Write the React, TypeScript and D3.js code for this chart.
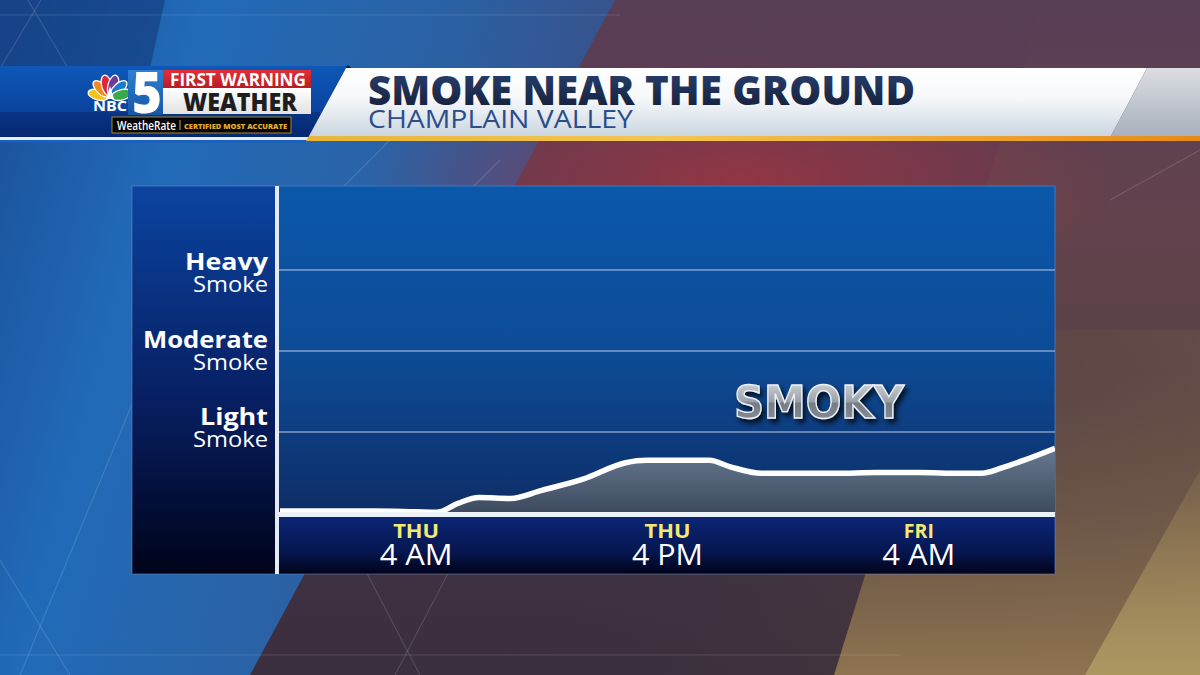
import * as d3 from 'd3'

// hours after Thu 4 AM, smoke level (0 = none, 1 = light, 2 = moderate, 3 = heavy)
const hours = [-6.5, -4, -2, 0, 1, 2, 3, 4.5, 6, 8, 10, 11, 12, 14, 15, 16.5, 18, 20, 22, 24, 26, 27, 28, 29, 30.5]
const smoke = [0.025, 0.025, 0.025, 0.015, 0.01, 0.12, 0.19, 0.18, 0.28, 0.42, 0.62, 0.65, 0.65, 0.65, 0.57, 0.49, 0.49, 0.49, 0.5, 0.5, 0.49, 0.49, 0.56, 0.65, 0.8]

const levelNames = ['Light', 'Moderate', 'Heavy']
const levelValues = [1, 2, 3]
const levelNameWidths = [68, 125, 83]
const tickHours = [0, 12, 24]
const tickDays = ['THU', 'THU', 'FRI']
const tickTimes = ['4 AM', '4 PM', '4 AM']

const TITLE = 'SMOKE NEAR THE GROUND'
const SUBTITLE = 'CHAMPLAIN VALLEY'
const FONT = "'Open Sans', 'DejaVu Sans', sans-serif"

const PLOT = { left: 279, right: 1055, top: 186, base: 513, bottom: 574 }

// NBC peacock feathers, left to right
const FEATHERS = ['#f6c21c', '#f08a1c', '#e2263a', '#6e3c96', '#1a7cc8', '#3aa84a']

export default function App() {
  const x = d3.scaleLinear([-6.5, 30.5], [PLOT.left + 1, PLOT.right])
  const y = d3.scaleLinear([0, 3], [PLOT.base, 270])
  // the level captions sit a little tighter than the gridlines
  const labelY = d3.scaleLinear([1, 3], [425, 270])

  const area = d3.area<number>()
    .x((_, i) => x(hours[i]))
    .y0(y(0))
    .y1(d => y(d))
    .curve(d3.curveMonotoneX)
  const line = d3.line<number>()
    .x((_, i) => x(hours[i]))
    .y(d => y(d))
    .curve(d3.curveMonotoneX)

  const featherAngles = d3.range(FEATHERS.length).map(i => 166 - i * 30.4)

  return (
    <div style={{ position: 'fixed', left: 0, top: 0, width: 1200, height: 675 }}>
      <svg width={1200} height={675} viewBox="0 0 1200 675" style={{ display: 'block' }}>
        <defs>
          <linearGradient id="bgBlue" x1="0" y1="0" x2="1" y2="0.3">
            <stop offset="0" stopColor="#1b4f98" />
            <stop offset="0.3" stopColor="#216ab8" />
            <stop offset="0.65" stopColor="#2a62a6" />
            <stop offset="1" stopColor="#3a4f86" />
          </linearGradient>
          <linearGradient id="bgWarm" x1="0" y1="0" x2="0" y2="1">
            <stop offset="0" stopColor="#583e56" />
            <stop offset="0.35" stopColor="#5e3c4e" />
            <stop offset="0.75" stopColor="#413244" />
            <stop offset="1" stopColor="#3a2f3e" />
          </linearGradient>
          <linearGradient id="bgTan" x1="0" y1="0" x2="0" y2="1">
            <stop offset="0" stopColor="#7a6048" stopOpacity="0" />
            <stop offset="0.55" stopColor="#6e5446" stopOpacity="0.35" />
            <stop offset="1" stopColor="#8e7450" stopOpacity="1" />
          </linearGradient>
          <linearGradient id="bgTan2" x1="0" y1="0" x2="0" y2="1">
            <stop offset="0" stopColor="#a28a5c" stopOpacity="0.2" />
            <stop offset="1" stopColor="#ad9862" stopOpacity="1" />
          </linearGradient>
          <linearGradient id="bgMid" x1="0" y1="0" x2="1" y2="0">
            <stop offset="0" stopColor="#3a2f40" stopOpacity="0" />
            <stop offset="0.6" stopColor="#4e4038" stopOpacity="0.7" />
            <stop offset="1" stopColor="#6a5444" stopOpacity="0.9" />
          </linearGradient>
          <radialGradient id="redGlow" cx="0.5" cy="0.5" r="0.5">
            <stop offset="0" stopColor="#a8323e" stopOpacity="0.7" />
            <stop offset="1" stopColor="#a8323e" stopOpacity="0" />
          </radialGradient>
          <linearGradient id="hdrBlue" x1="0" y1="0" x2="0" y2="1">
            <stop offset="0" stopColor="#0e58b8" />
            <stop offset="0.6" stopColor="#0a44a0" />
            <stop offset="1" stopColor="#062c78" />
          </linearGradient>
          <linearGradient id="hdrWhite" x1="0" y1="0" x2="0" y2="1">
            <stop offset="0" stopColor="#ffffff" />
            <stop offset="0.45" stopColor="#f6f8fa" />
            <stop offset="1" stopColor="#cbd6e0" />
          </linearGradient>
          <linearGradient id="hdrGray" x1="0" y1="0" x2="0" y2="1">
            <stop offset="0" stopColor="#dcdde2" />
            <stop offset="1" stopColor="#a8b1bc" />
          </linearGradient>
          <linearGradient id="gold" x1="0" y1="0" x2="1" y2="0">
            <stop offset="0" stopColor="#e9b43a" />
            <stop offset="0.4" stopColor="#f3c64e" />
            <stop offset="1" stopColor="#e8891a" />
          </linearGradient>
          <linearGradient id="titleFill" x1="0" y1="0" x2="0" y2="1">
            <stop offset="0" stopColor="#2c4678" />
            <stop offset="1" stopColor="#111a30" />
          </linearGradient>
          <linearGradient id="fiveBox" x1="0" y1="0" x2="0" y2="1">
            <stop offset="0" stopColor="#2f80d2" />
            <stop offset="1" stopColor="#1656a6" />
          </linearGradient>
          <linearGradient id="redBox" x1="0" y1="0" x2="0" y2="1">
            <stop offset="0" stopColor="#e0303a" />
            <stop offset="1" stopColor="#b81c24" />
          </linearGradient>
          <linearGradient id="whiteBox" x1="0" y1="0" x2="0" y2="1">
            <stop offset="0" stopColor="#ffffff" />
            <stop offset="1" stopColor="#e2e2e2" />
          </linearGradient>
          <linearGradient id="sidePanel" x1="0" y1="0" x2="0" y2="1">
            <stop offset="0" stopColor="#0b44a0" />
            <stop offset="0.55" stopColor="#071f62" />
            <stop offset="1" stopColor="#00031a" />
          </linearGradient>
          <linearGradient id="plotBg" x1="0" y1="0" x2="0" y2="1">
            <stop offset="0" stopColor="#0b58aa" />
            <stop offset="0.55" stopColor="#0d4a94" />
            <stop offset="1" stopColor="#0d2d66" />
          </linearGradient>
          <linearGradient id="stripBg" x1="0" y1="0" x2="0" y2="1">
            <stop offset="0" stopColor="#0b2676" />
            <stop offset="0.6" stopColor="#061650" />
            <stop offset="1" stopColor="#00031a" />
          </linearGradient>
          <linearGradient id="areaFill" gradientUnits="userSpaceOnUse" x1="0" y1={y(0.8)} x2="0" y2={y(0)}>
            <stop offset="0" stopColor="#67798f" />
            <stop offset="1" stopColor="#3c4a5f" />
          </linearGradient>
          <linearGradient id="metal" x1="0" y1="0" x2="0" y2="1">
            <stop offset="0" stopColor="#dfe3e8" />
            <stop offset="0.48" stopColor="#9ba1a9" />
            <stop offset="0.52" stopColor="#767c85" />
            <stop offset="1" stopColor="#8e949c" />
          </linearGradient>
          <filter id="shadow" x="-20%" y="-30%" width="140%" height="170%">
            <feDropShadow dx="3" dy="4" stdDeviation="2.5" floodColor="#000000" floodOpacity="0.75" />
          </filter>
          <clipPath id="plotClip">
            <rect x={PLOT.left} y={PLOT.top} width={PLOT.right - PLOT.left} height={PLOT.base - PLOT.top + 4} />
          </clipPath>
        </defs>

        {/* background */}
        <rect x={0} y={0} width={1200} height={675} fill="url(#bgWarm)" />
        <polygon points="0,0 615,0 250,675 0,675" fill="url(#bgBlue)" />
        <polygon points="0,0 165,0 150,68 0,68" fill="#163e80" opacity={0.7} />
        <polygon points="480,675 700,330 1200,330 1200,675" fill="url(#bgMid)" opacity={0.55} />
        <ellipse cx={740} cy={178} rx={380} ry={120} fill="url(#redGlow)" />
        <polygon points="1044,0 1200,0 1200,675 834,675" fill="url(#bgTan)" />
        <polygon points="1200,470 1200,675 1085,675" fill="url(#bgTan2)" />
        <g stroke="#ffffff" strokeOpacity={0.13} strokeWidth={1.2} fill="none">
          <line x1={0} y1={15} x2={620} y2={15} />
          <line x1={0} y1={655} x2={900} y2={655} />
          <line x1={-5} y1={77} x2={44} y2={-5} />
          <line x1={25} y1={-5} x2={75} y2={80} />
          <line x1={330} y1={200} x2={390} y2={140} />
          <line x1={500} y1={160} x2={460} y2={200} />
          <line x1={0} y1={560} x2={70} y2={675} />
          <line x1={20} y1={675} x2={175} y2={300} />
          <line x1={360} y1={560} x2={420} y2={675} />
          <line x1={455} y1={560} x2={395} y2={675} />
          <line x1={1110} y1={200} x2={1200} y2={150} />
        </g>

        {/* header band */}
        <polygon points="0,66 350,66 312,137 0,137" fill="url(#hdrBlue)" />
        <rect x={0} y={112} width={320} height={25} fill="#05205e" opacity={0.35} />
        <line x1={349} y1={66} x2={311} y2={137} stroke="#0a1f52" strokeWidth={4} />
        <polygon points="346,68 1147,68 1111,136 309,136" fill="url(#hdrWhite)" />
        <polygon points="1147,68 1200,68 1200,136 1111,136" fill="url(#hdrGray)" />
        <rect x={0} y={137} width={309} height={3} fill="#e6edf6" />
        <rect x={0} y={140} width={306} height={2.5} fill="#1a60c0" />
        <polygon points="309,136 1200,136 1200,141 306,141" fill="url(#gold)" />

        {/* NBC peacock */}
        <g>
          {featherAngles.map((a, i) => {
            const rad = (a * Math.PI) / 180
            const cx = 110 + Math.cos(rad) * 12
            const cy = 98 - Math.sin(rad) * 13
            return (
              <ellipse key={i} cx={cx} cy={cy} rx={10.5} ry={5.2}
                transform={`rotate(${-a} ${cx} ${cy})`}
                fill={FEATHERS[i]} stroke="#ffffff" strokeWidth={1.3} />
            )
          })}
          <path d="M106,99 L110,86 L114,99 Z" fill="#ffffff" />
        </g>
        <text x={110} y={111} textAnchor="middle" fontFamily={FONT} fontWeight={700} fontSize={13.5}
          fill="#ffffff" textLength={34} lengthAdjust="spacingAndGlyphs">NBC</text>

        <rect x={128} y={70} width={35} height={45} fill="url(#fiveBox)" />
        <text x={147} y={113} textAnchor="middle" fontFamily={FONT} fontWeight={800} fontSize={56}
          fill="#ffffff" textLength={30} lengthAdjust="spacingAndGlyphs">5</text>
        <rect x={163} y={70} width={148} height={18} fill="url(#redBox)" />
        <text x={238} y={86} textAnchor="middle" fontFamily={FONT} fontWeight={700} fontSize={17}
          fill="#ffffff" textLength={136} lengthAdjust="spacingAndGlyphs">FIRST WARNING</text>
        <rect x={163} y={88} width={148} height={26} fill="url(#whiteBox)" />
        <text x={240} y={111} textAnchor="middle" fontFamily={FONT} fontWeight={800} fontSize={25}
          fill="#1e1e1e" textLength={114} lengthAdjust="spacingAndGlyphs">WEATHER</text>
        <rect x={112} y={117} width={179} height={16} fill="#050505" stroke="#a8862a" strokeWidth={1} />
        <text x={117} y={130} fontFamily={FONT} fontWeight={600} fontSize={13}
          fill="#ffffff" textLength={59} lengthAdjust="spacingAndGlyphs">WeatheRate</text>
        <line x1={180} y1={120} x2={180} y2={130} stroke="#d6a424" strokeWidth={1} />
        <text x={184} y={128.5} fontFamily={FONT} fontWeight={800} fontSize={7.5}
          fill="#e2b02a" textLength={103} lengthAdjust="spacingAndGlyphs">CERTIFIED MOST ACCURATE</text>

        {/* title */}
        <text x={368} y={105} fontFamily={FONT} fontWeight={800} fontSize={40} fill="url(#titleFill)"
          textLength={547} lengthAdjust="spacingAndGlyphs">{TITLE}</text>
        <text x={368} y={128} fontFamily={FONT} fontWeight={400} fontSize={26} fill="#2b4d8c"
          textLength={265} lengthAdjust="spacingAndGlyphs">{SUBTITLE}</text>

        {/* chart panel */}
        <rect x={132} y={PLOT.top} width={147} height={PLOT.bottom - PLOT.top} fill="url(#sidePanel)" />
        <rect x={PLOT.left} y={PLOT.top} width={PLOT.right - PLOT.left} height={PLOT.base - PLOT.top}
          fill="url(#plotBg)" />
        <rect x={PLOT.left} y={517} width={PLOT.right - PLOT.left} height={PLOT.bottom - 517} fill="url(#stripBg)" />
        <rect x={132} y={PLOT.top} width={PLOT.right - 132} height={PLOT.bottom - PLOT.top}
          fill="none" stroke="#6f8fc8" strokeOpacity={0.55} strokeWidth={1} />

        {/* level gridlines */}
        {levelValues.map(v => (
          <line key={v} x1={PLOT.left} x2={PLOT.right} y1={y(v)} y2={y(v)}
            stroke="#cfdcf2" strokeOpacity={0.9} strokeWidth={1.2} />
        ))}

        {/* level labels */}
        {levelValues.map((v, i) => (
          <g key={v} fontFamily={FONT} fill="#ffffff" textAnchor="end">
            <text x={268} y={labelY(v)} fontWeight={700} fontSize={24}
              textLength={levelNameWidths[i]} lengthAdjust="spacingAndGlyphs">{levelNames[i]}</text>
            <text x={268} y={labelY(v) + 22} fontWeight={400} fontSize={21}
              textLength={75} lengthAdjust="spacingAndGlyphs">Smoke</text>
          </g>
        ))}

        {/* SMOKY label */}
        <text x={819} y={418} textAnchor="middle" fontFamily="'DejaVu Sans', sans-serif" fontWeight={700}
          fontSize={45} fill="url(#metal)" stroke="#eef2f6" strokeWidth={1.4} filter="url(#shadow)"
          textLength={170} lengthAdjust="spacingAndGlyphs">SMOKY</text>

        {/* smoke curve */}
        <g clipPath="url(#plotClip)">
          <path d={area(smoke) ?? ''} fill="url(#areaFill)" />
          <path d={line(smoke) ?? ''} fill="none" stroke="#ffffff" strokeWidth={5.5} strokeLinejoin="round" />
        </g>

        {/* baseline and divider */}
        <rect x={PLOT.left} y={512} width={PLOT.right - PLOT.left} height={5} fill="#eef3fa" />
        <rect x={275} y={PLOT.top} width={4} height={PLOT.bottom - PLOT.top} fill="#e4ebf6" />

        {/* time axis */}
        {tickHours.map((h, i) => (
          <g key={h} fontFamily={FONT} textAnchor="middle">
            <text x={x(h)} y={538} fontWeight={700} fontSize={19} fill="#f4ea72"
              textLength={i === 2 ? 30 : 46} lengthAdjust="spacingAndGlyphs">{tickDays[i]}</text>
            <text x={x(h)} y={565} fontWeight={500} fontSize={29} fill="#ffffff"
              textLength={i === 1 ? 71 : 73} lengthAdjust="spacingAndGlyphs">{tickTimes[i]}</text>
          </g>
        ))}
      </svg>
    </div>
  )
}
